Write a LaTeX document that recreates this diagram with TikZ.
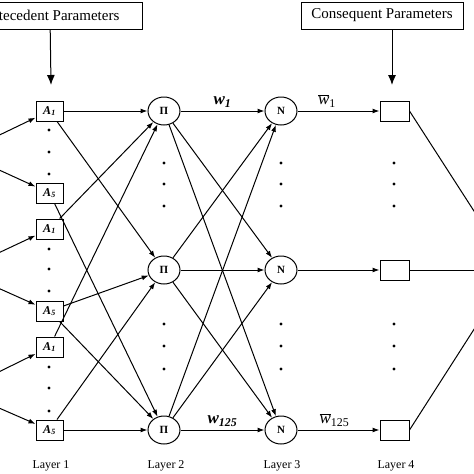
\documentclass[tikz,border=0pt]{standalone}
\usepackage{fontspec}
\setmainfont{Liberation Serif}
\usetikzlibrary{arrows.meta,shapes.geometric}

\begin{document}
\begin{tikzpicture}[x=1pt,y=-1pt,line width=1pt,font=\fontsize{15}{18}\selectfont,
  mf/.style={draw,minimum width=27pt,minimum height=20pt,inner sep=0pt,font=\fontsize{12}{14}\selectfont\bfseries\itshape},
  op/.style={draw,ellipse,minimum width=32pt,minimum height=28pt,inner sep=0pt,font=\fontsize{11}{13}\selectfont\bfseries},
  cq/.style={draw,minimum width=29pt,minimum height=20pt,inner sep=0pt},
  par/.style={draw,minimum height=27pt,inner sep=0pt},
  lay/.style={font=\fontsize{12}{14}\selectfont},
  wt/.style={font=\fontsize{17}{20}\selectfont\bfseries\itshape},
  big/.style={-{Latex[length=10pt,width=8pt]}},
  >={Latex[length=7pt,width=5pt]}]
\useasboundingbox (0,0) rectangle (474,474);
\clip (0,0) rectangle (474,474);
\node[par,minimum width=184pt] (ant) at (50,15.5) {Antecedent Parameters};
\node[par,minimum width=162pt] (con) at (382,15.5) {Consequent Parameters};
\coordinate (ah) at (51,85);
\coordinate (ch) at (392,85);
\draw[big] (ant) -- (ah);
\draw[big] (con.south -| ch) -- (ch);
\coordinate (x1) at (-38,153);
\coordinate (x2) at (-40,271);
\coordinate (x3) at (-40,391);
\coordinate (out) at (512,270);
\foreach \i/\y/\t in {1/111/1,2/193/5,3/229/1,4/311/5,5/347/1,6/430/5}
  \node[mf] (m\i) at (49.5,\y) {A\textsubscript{\t}};
\foreach \i/\y in {1/111,2/270,3/430} {
  \node[op] (p\i) at (164,\y) {Π};
  \node[op] (n\i) at (281,\y) {N};
  \node[cq] (c\i) at (394.5,\y) {};
}
\foreach \x/\m in {x1/m1,x1/m2,x2/m3,x2/m4,x3/m5,x3/m6}
  \draw[->] (\x) -- (\m);
\foreach \m/\p in {m1/p1,m3/p1,m5/p1,m1/p2,m4/p2,m6/p2,m2/p3,m4/p3,m6/p3}
  \draw[->] (\m) -- (\p);
\foreach \i in {1,2,3} {
  \foreach \j in {1,2,3}
    \draw[->] (p\i) -- (n\j);
}
\draw[->] (n1) -- node[above,pos=0.36,font=\fontsize{17}{20}\selectfont] {$\overline{\mathit{w}}_{\mathrm{1}}$} (c1);
\draw[->] (n2) -- (c2);
\draw[->] (n3) -- node[above,pos=0.45,font=\fontsize{17}{20}\selectfont] {$\overline{\mathit{w}}_{\mathrm{125}}$} (c3);
\path (p1) -- node[above,wt] {w\textsubscript{1}} (n1);
\path (p3) -- node[above,wt] {w\textsubscript{125}} (n3);
\draw (c1.east) -- (out);
\draw (c2) -- (out);
\draw (c3.east) -- (out);
\foreach \y in {130,152,174,249,269,291,367,388,411}
  \fill (49,\y) circle (1.6pt);
\foreach \x in {164,281,394} {
  \foreach \y in {163,184,206,324,346,369}
    \fill (\x,\y) circle (1.6pt);
}
\foreach \i/\x in {1/51,2/166,3/282,4/396}
  \node[lay] (l\i) at (\x,466) {Layer \i};
\end{tikzpicture}
\end{document}
